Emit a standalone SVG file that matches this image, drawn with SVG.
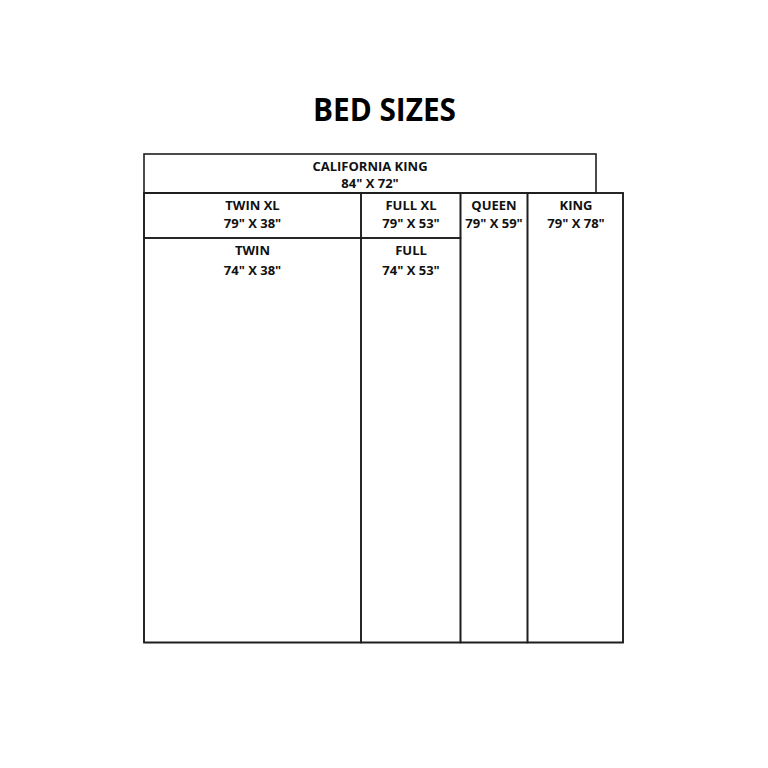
<svg xmlns="http://www.w3.org/2000/svg" width="768" height="768" viewBox="0 0 768 768">
<style>
.box{fill:none;stroke:#1e1e1e;stroke-width:1.6}
.t{font-family:"Open Sans","Liberation Sans",sans-serif;font-weight:bold;font-size:13px;fill:#111;text-anchor:middle}
.title{font-family:"Open Sans","Liberation Sans",sans-serif;font-weight:bold;font-size:33px;fill:#000;text-anchor:middle}
</style>
<rect width="768" height="768" fill="#fff"/>
<text class="title" x="384.5" y="121" textLength="143" lengthAdjust="spacingAndGlyphs">BED SIZES</text>
<g id="california-king">
<rect class="box" x="144" y="154" width="452" height="39"/>
<text class="t" x="370" y="171">CALIFORNIA KING</text>
<text class="t" x="370" y="188">84" X 72"</text>
</g>
<g id="frame">
<rect class="box" x="144" y="193" width="479" height="449.5"/>
</g>
<g id="twin-xl">
<rect class="box" x="144" y="193" width="217" height="45"/>
<text class="t" x="252.5" y="210">TWIN XL</text>
<text class="t" x="252.5" y="228">79" X 38"</text>
</g>
<g id="full-xl">
<rect class="box" x="361" y="193" width="99.5" height="45"/>
<text class="t" x="411" y="210">FULL XL</text>
<text class="t" x="411" y="228">79" X 53"</text>
</g>
<g id="twin">
<rect class="box" x="144" y="238" width="217" height="404.5"/>
<text class="t" x="252.5" y="255">TWIN</text>
<text class="t" x="252.5" y="275">74" X 38"</text>
</g>
<g id="full">
<rect class="box" x="361" y="238" width="99.5" height="404.5"/>
<text class="t" x="411" y="255">FULL</text>
<text class="t" x="411" y="275">74" X 53"</text>
</g>
<g id="queen">
<rect class="box" x="460.5" y="193" width="67" height="449.5"/>
<text class="t" x="494" y="210">QUEEN</text>
<text class="t" x="494" y="228">79" X 59"</text>
</g>
<g id="king">
<rect class="box" x="527.5" y="193" width="95.5" height="449.5"/>
<text class="t" x="576" y="210">KING</text>
<text class="t" x="576" y="228">79" X 78"</text>
</g>
<g id="connectors"></g>
</svg>
